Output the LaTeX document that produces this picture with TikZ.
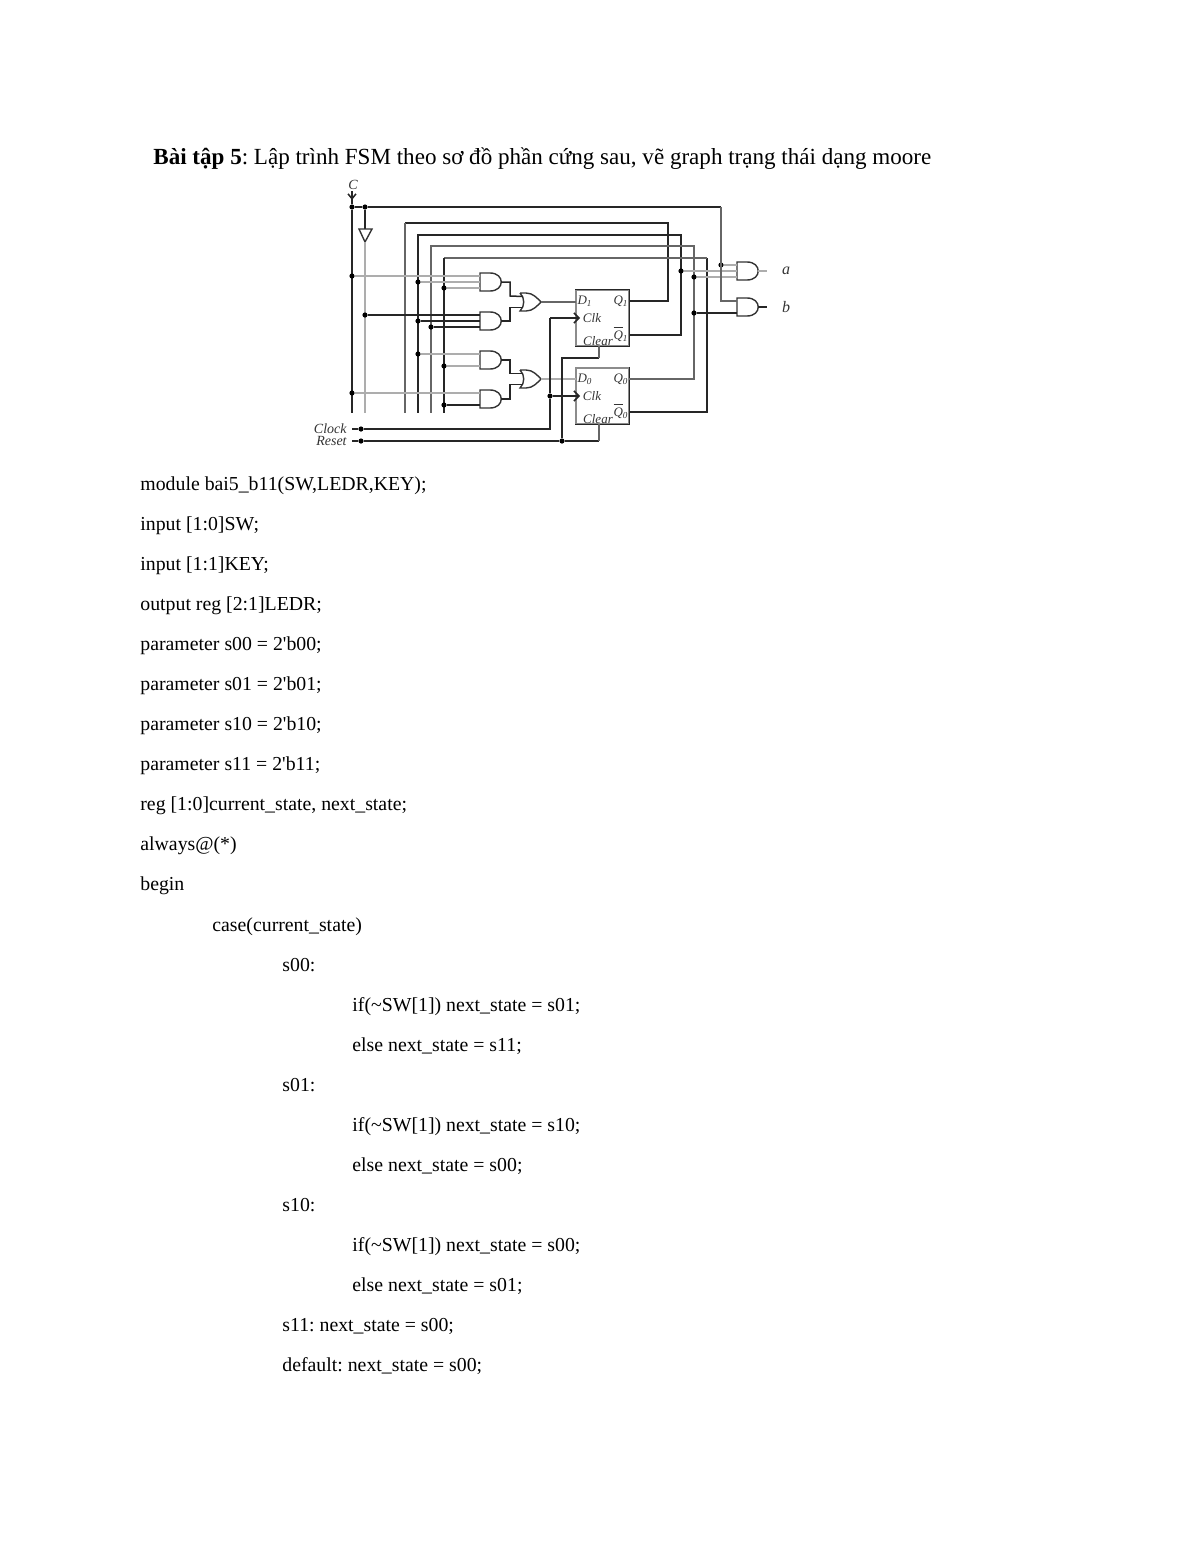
\documentclass[tikz,border=0pt]{standalone}
\usepackage{fontspec}
\setmainfont{Liberation Serif}
\usetikzlibrary{arrows.meta}
\frenchspacing
\def\andgate(#1)(#2,#3){
	\draw[gate] (#2,#3-9) -- (#2+10,#3-9) .. controls (#2+25,#3-9) and (#2+25,#3+9) .. (#2+10,#3+9) -- (#2,#3+9) -- cycle;
	\coordinate (#1a) at (#2,#3-6);
	\coordinate (#1b) at (#2,#3);
	\coordinate (#1c) at (#2,#3+6);
	\coordinate (#1o) at (#2+21,#3);
}
\def\orgate(#1)(#2,#3){
	\draw[gate] (#2,#3-9) -- (#2+6,#3-9) .. controls (#2+13,#3-9) and (#2+17,#3-4) .. (#2+21,#3) .. controls (#2+17,#3+4) and (#2+13,#3+9) .. (#2+6,#3+9) -- (#2,#3+9) .. controls (#2+5,#3+4) and (#2+5,#3-4) .. (#2,#3-9);
	\coordinate (#1a) at (#2+3,#3-5.5);
	\coordinate (#1b) at (#2+3,#3+5.5);
	\coordinate (#1o) at (#2+21,#3);
}
\def\qbar#1{\(\overline{\mbox{Q}}\)\textsubscript{#1}}
\tikzset{
	wire/.style={line width=0.75pt, color=black!85},
	midwire/.style={line width=0.65pt, color=black!60},
	lightwire/.style={line width=0.6pt, color=black!32},
	gate/.style={line width=0.7pt, color=black!80},
	dot/.style={circle, fill=black, inner sep=0pt, minimum size=2.6pt},
	ffbox/.style={draw=black!45, line width=0.6pt, minimum width=26.5pt, minimum height=28pt, inner sep=0pt},
	pinlabel/.style={font=\fontsize{6.5}{7}\selectfont\itshape, inner sep=0pt, color=black!80},
	sidelabel/.style={font=\fontsize{7}{8}\selectfont\itshape, inner sep=0pt, color=black!80},
	codeline/.style={font=\fontsize{9.9}{12}\selectfont, anchor=base west, inner sep=0pt},
	titleline/.style={font=\fontsize{11.53}{14}\selectfont, anchor=base west, inner sep=0pt},
	clkin/.style={wire, -{Straight Barb[length=2.5pt,width=5pt]}},
}
\begin{document}
\begin{tikzpicture}[x=0.5pt, y=-0.5pt]
	\useasboundingbox (0, 0) rectangle (1200, 1553);
	%%%%% TITLE %%%%%
	\node[titleline] (title) at (153, 164) {\textbf{Bài tập 5}: Lập trình FSM theo sơ đồ phần cứng sau, vẽ graph trạng thái dạng moore};

	%%%%% GATES %%%%%
	\andgate(ga)(480,282)
	\andgate(gb)(480,321)
	\andgate(gc)(480,360)
	\andgate(gd)(480,399)
	\orgate(oa)(520,302)
	\orgate(ob)(520,379)
	\andgate(ha)(737,271)
	\andgate(hb)(737,307)

	\node[ffbox] (ffa) at (602.5, 318) {};
	\node[ffbox] (ffb) at (602.5, 396) {};
	\draw[wire] (ffa.north west) -- (ffa.north east) -- (ffa.south east) -- (ffa.south west);
	\draw[wire] (ffb.north east) -- (ffb.south east) -- (ffb.south west);

	\coordinate (ffad) at (576, 302);
	\coordinate (ffaq) at (629, 301);
	\coordinate (ffan) at (629, 335);
	\coordinate (ffac) at (580, 318);
	\coordinate (ffar) at (599, 346);
	\coordinate (ffbd) at (576, 379);
	\coordinate (ffbq) at (629, 379);
	\coordinate (ffbn) at (629, 412);
	\coordinate (ffbc) at (580, 396);
	\coordinate (ffbr) at (599, 424);

	%%%%% RAILS %%%%%
	\coordinate (cin) at (352, 191);
	\coordinate (cbot) at (352, 413);
	\coordinate (nbot) at (365, 413);
	\node[dot] (ctop) at (352, 207) {};
	\node[dot] (ntop) at (365, 207) {};
	\coordinate (cright) at (721, 207);
	\draw[wire, -{Straight Barb[length=2.5pt,width=4pt]}] (cin) -- (352, 200);
	\draw[wire] (352, 198) -- (ctop) -- (cbot);
	\draw[wire] (ctop) -- (ntop) -- (cright);

	\coordinate (nottop) at (365, 229);
	\coordinate (notend) at (365, 242);
	\draw[wire] (ntop) -- (nottop);
	\draw[gate] (359, 229) -- (372, 229) -- (notend) -- cycle;
	\draw[lightwire] (notend) -- (nbot);

	\foreach \nm/\xl/\xr/\yt in {ra/405/668/223, rb/418/681/235, rc/431/694/246, rd/444/707/258} {
		\coordinate (\nm l) at (\xl, \yt);
		\coordinate (\nm r) at (\xr, \yt);
		\coordinate (\nm b) at (\xl, 413);
	}
	\draw[wire] (ffaq) -| (rar) -- (ral);
	\draw[midwire] (ral) -- (rab);
	\draw[wire] (ffan) -| (rbr) -- (rbl) -- (rbb);
	\draw[midwire] (ffbq) -| (rcr) -- (rcl) -- (rcb);
	\draw[wire] (ffbn) -| (rdr);
	\draw[midwire] (rdr) -- (rdl);
	\draw[wire] (rdl) -- (rdb);

	%%%%% JUNCTIONS AND GATE INPUTS %%%%%
	\foreach \nm/\jx/\jy/\pin/\st in {
		ja/352/276/gaa/lightwire, jb/418/282/gab/lightwire, jc/444/288/gac/lightwire,
		jd/365/315/gba/wire, je/418/321/gbb/wire, jf/431/327/gbc/wire,
		jg/418/354/gca/lightwire, jh/444/366/gcc/lightwire,
		ji/352/393/gda/lightwire, jj/444/405/gdc/wire,
		jk/721/265/haa/lightwire, jl/681/271/hab/lightwire, jm/694/277/hac/lightwire} {
		\node[dot] (\nm) at (\jx, \jy) {};
		\draw[\st] (\nm) -- (\pin);
	}
	\node[dot] (jn) at (694, 313) {};
	\draw[wire] (jn) -- (hbc);
	\draw[midwire] (cright) |- (hba);

	%%%%% GATE OUTPUTS %%%%%
	\draw[wire] (gao) -| (510, 296) -- (oaa);
	\draw[wire] (gbo) -| (510, 307.5) -- (oab);
	\draw[wire] (gco) -| (510, 373.5) -- (oba);
	\draw[wire] (gdo) -| (510, 384.5) -- (obb);
	\draw[midwire] (oao) -- (ffad);
	\draw[lightwire] (obo) -- (ffbd);
	\coordinate (aout) at (767, 271);
	\coordinate (bout) at (767, 307);
	\draw[lightwire] (hao) -- (aout);
	\draw[wire] (hbo) -- (bout);

	%%%%% CLOCK AND RESET %%%%%
	\coordinate (clkin) at (352, 429);
	\coordinate (rstin) at (352, 441);
	\node[dot] (clkdot) at (361, 429) {};
	\node[dot] (rstdot) at (361, 441) {};
	\node[dot] (clkb) at (550, 396) {};
	\node[dot] (rstb) at (562, 441) {};
	\coordinate (rstend) at (599, 441);
	\draw[wire] (clkin) -- (clkdot) -- (550, 429) -- (clkb) -- (550, 318);
	\draw[clkin] (550, 318) -- (ffac);
	\draw[clkin] (clkb) -- (ffbc);
	\draw[wire] (rstin) -- (rstdot) -- (rstb) -- (rstend);
	\draw[midwire] (rstend) -- (ffbr);
	\draw[wire] (rstb) |- (599, 358);
	\draw[midwire] (599, 358) -- (ffar);

	%%%%% LABELS %%%%%
	\node[sidelabel] (lc) at (353, 185) {C};
	\node[sidelabel, anchor=east] (lclk) at (347, 429) {Clock};
	\node[sidelabel, anchor=east] (lrst) at (347, 441) {Reset};
	\node[pinlabel] (la) at (786, 271) {\fontsize{8}{9}\selectfont a};
	\node[pinlabel] (lb) at (786, 307) {\fontsize{8}{9}\selectfont b};
	\node[pinlabel] (lda) at (585, 301) {D\textsubscript{1}};
	\node[pinlabel] (lqa) at (621, 301) {Q\textsubscript{1}};
	\node[pinlabel] (lna) at (621, 334) {\qbar{1}};
	\node[pinlabel] (lka) at (592, 318) {Clk};
	\node[pinlabel] (lra) at (598, 341) {Clear};
	\node[pinlabel] (ldb) at (585, 379) {D\textsubscript{0}};
	\node[pinlabel] (lqb) at (621, 379) {Q\textsubscript{0}};
	\node[pinlabel] (lnb) at (621, 411) {\qbar{0}};
	\node[pinlabel] (lkb) at (592, 396) {Clk};
	\node[pinlabel] (lrb) at (598, 419) {Clear};

	%%%%% CODE %%%%%
	\foreach \yl/\xl/\txt in {
		490/140/{module bai5\_b11(SW,LEDR,KEY);},
		530/140/{input [1:0]SW;},
		570/140/{input [1:1]KEY;},
		610/140/{output reg [2:1]LEDR;},
		650/140/{parameter s00 = 2\textquotesingle b00;},
		690/140/{parameter s01 = 2\textquotesingle b01;},
		730/140/{parameter s10 = 2\textquotesingle b10;},
		770/140/{parameter s11 = 2\textquotesingle b11;},
		810/140/{reg [1:0]current\_state, next\_state;},
		850/140/{always@(*)},
		890/140/{begin},
		931/212/{case(current\_state)},
		971/282/{s00:},
		1011/352/{if(\textasciitilde SW[1]) next\_state = s01;},
		1051/352/{else next\_state = s11;},
		1091/282/{s01:},
		1131/352/{if(\textasciitilde SW[1]) next\_state = s10;},
		1171/352/{else next\_state = s00;},
		1211/282/{s10:},
		1251/352/{if(\textasciitilde SW[1]) next\_state = s00;},
		1291/352/{else next\_state = s01;},
		1331/282/{s11: next\_state = s00;},
		1371/282/{default: next\_state = s00;}} {
		\node[codeline] (line\yl) at (\xl, \yl) {\txt};
	}
\end{tikzpicture}
\end{document}
